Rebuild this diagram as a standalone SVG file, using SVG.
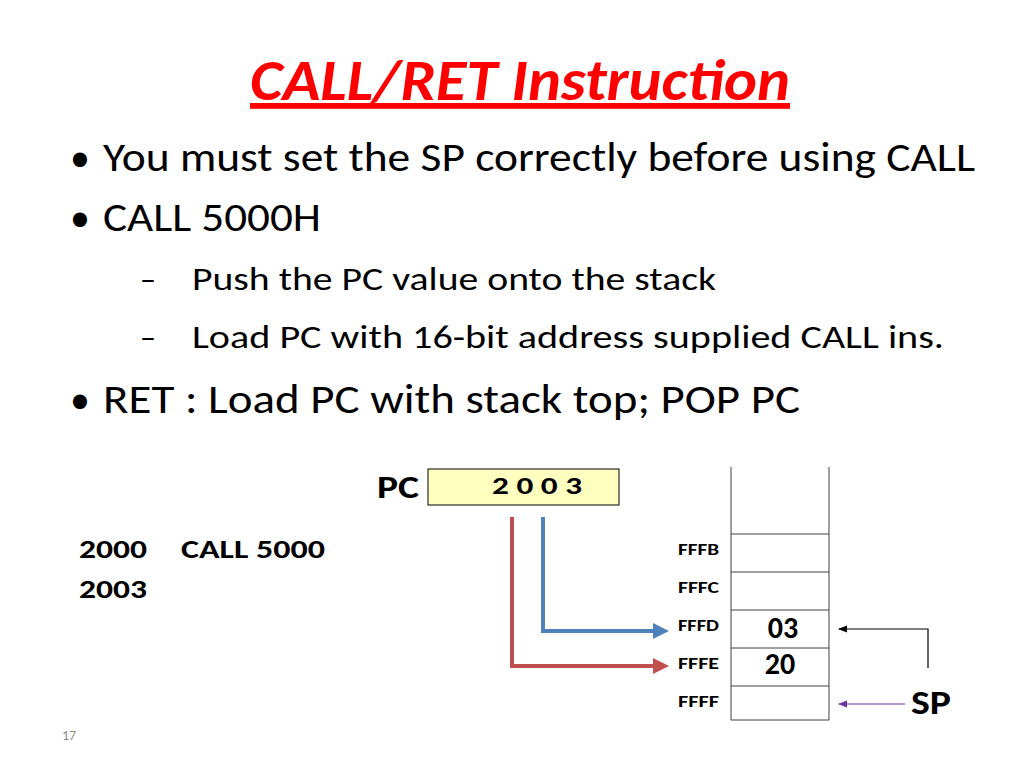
<svg xmlns="http://www.w3.org/2000/svg" width="1024" height="768" viewBox="0 0 1024 768">
<style>
.c{font-family:Calibri,Carlito,"Liberation Sans",sans-serif;white-space:pre}
.b{font-family:Calibri,Carlito,"Liberation Sans",sans-serif;font-weight:bold;fill:#000}
.s{stroke:#404040;stroke-width:1;fill:none}
</style>
<defs>
<marker id="ab" markerWidth="4" markerHeight="4" refX="3" refY="2" orient="auto"><path d="M0,0L4,2L0,4z" fill="#4f81bd"/></marker>
<marker id="ar" markerWidth="4" markerHeight="4" refX="3" refY="2" orient="auto"><path d="M0,0L4,2L0,4z" fill="#c0504d"/></marker>
<marker id="ak" markerWidth="8" markerHeight="8" refX="7" refY="4" orient="auto"><path d="M0,1L8,4L0,7z" fill="#000"/></marker>
<marker id="ap" markerWidth="8" markerHeight="8" refX="7" refY="4" orient="auto"><path d="M0,1L8,4L0,7z" fill="#7030a0"/></marker>
</defs>
<rect width="1024" height="768" fill="#fff"/>
<text x="250" y="100" textLength="540" lengthAdjust="spacingAndGlyphs" class="c" font-size="58" font-style="italic" font-weight="bold" fill="#ff0000" text-decoration="underline">CALL/RET Instruction</text>
<g class="c" font-size="40" fill="#000">
<text x="70" y="171">•</text><text x="103" y="171" textLength="872" lengthAdjust="spacingAndGlyphs">You must set the SP correctly before using CALL</text>
<text x="70" y="231">•</text><text x="103" y="231" textLength="218" lengthAdjust="spacingAndGlyphs">CALL 5000H</text>
<text x="70" y="413">•</text><text x="103" y="413" textLength="697" lengthAdjust="spacingAndGlyphs">RET : Load PC with stack top;   POP PC</text>
</g>
<g class="c" font-size="32" fill="#000">
<text x="140" y="290">–</text><text x="192" y="290" textLength="524" lengthAdjust="spacingAndGlyphs">Push the PC value onto the stack</text>
<text x="140" y="348">–</text><text x="192" y="348" textLength="752" lengthAdjust="spacingAndGlyphs">Load PC with 16-bit address supplied CALL  ins.</text>
</g>
<g class="b" font-size="27"><text x="79" y="558" textLength="68" lengthAdjust="spacingAndGlyphs">2000</text><text x="181" y="558" textLength="144" lengthAdjust="spacingAndGlyphs">CALL 5000</text><text x="79" y="598" textLength="68" lengthAdjust="spacingAndGlyphs">2003</text></g>
<g id="pc"><text x="377" y="498" class="b" font-size="32" textLength="42" lengthAdjust="spacingAndGlyphs">PC</text>
<rect x="428" y="469" width="191" height="36" fill="#ffffc0" stroke="#000"/>
<text x="492" y="494" class="b" font-size="25" textLength="90" lengthAdjust="spacingAndGlyphs">2 0 0 3</text></g>
<g id="stack">
<path class="s" d="M731,467V720H829V467M731,534H829M731,572H829M731,610H829M731,648H829M731,686H829"/>
<g class="b" font-size="16"><text x="678" y="555" textLength="41" lengthAdjust="spacingAndGlyphs">FFFB</text><text x="678" y="593" textLength="41" lengthAdjust="spacingAndGlyphs">FFFC</text><text x="678" y="631" textLength="41" lengthAdjust="spacingAndGlyphs">FFFD</text><text x="678" y="669" textLength="41" lengthAdjust="spacingAndGlyphs">FFFE</text><text x="678" y="707" textLength="41" lengthAdjust="spacingAndGlyphs">FFFF</text></g>
<g class="b" font-size="30"><text x="783" y="638" text-anchor="middle">03</text><text x="780" y="674" text-anchor="middle">20</text></g>
</g>
<text x="911" y="714" class="b" font-size="34" textLength="40" lengthAdjust="spacingAndGlyphs">SP</text>
<g id="connectors" fill="none">
<path d="M543,517V631H665" stroke="#4f81bd" stroke-width="4" marker-end="url(#ab)"/>
<path d="M512,517V666H665" stroke="#c0504d" stroke-width="4" marker-end="url(#ar)"/>
<path d="M928,668V629H839" stroke="#000" stroke-width="1.2" marker-end="url(#ak)"/>
<path d="M905,704H839" stroke="#7030a0" stroke-width="1.2" marker-end="url(#ap)"/>
</g>
<text x="62" y="740" class="c" font-size="14" fill="#8c8c8c">17</text>
</svg>
